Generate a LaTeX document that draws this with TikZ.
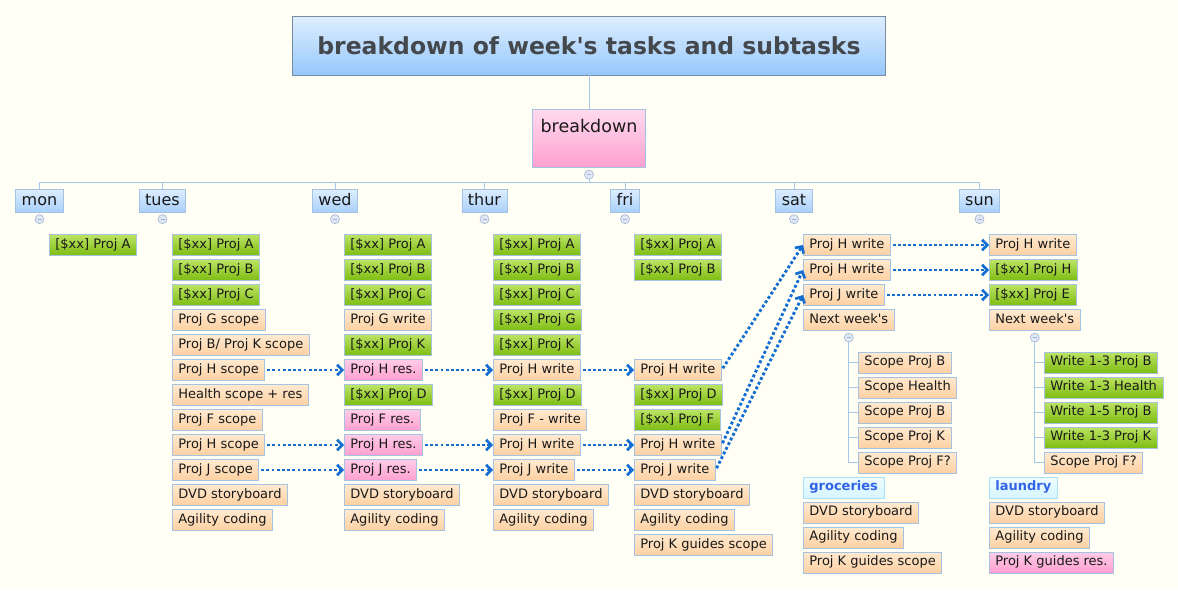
\documentclass[tikz,border=0pt]{standalone}
\usepackage{fontspec}
\setmainfont{DejaVu Sans}
\usetikzlibrary{arrows.meta,positioning}
\definecolor{bgcol}{RGB}{255,255,246}
\definecolor{txt}{RGB}{25,25,25}
\definecolor{boxline}{RGB}{165,195,225}
\definecolor{conncol}{RGB}{165,200,232}
\definecolor{flowcol}{RGB}{20,110,210}
\definecolor{grtop}{RGB}{188,228,100}
\definecolor{grbot}{RGB}{126,188,18}
\definecolor{ortop}{RGB}{255,234,208}
\definecolor{orbot}{RGB}{253,208,162}
\definecolor{pktop}{RGB}{255,204,232}
\definecolor{pkbot}{RGB}{255,160,208}
\definecolor{cytop}{RGB}{238,252,255}
\definecolor{cybot}{RGB}{214,245,255}
\definecolor{cyline}{RGB}{170,225,245}
\definecolor{cytext}{RGB}{50,100,230}
\definecolor{daytop}{RGB}{222,238,255}
\definecolor{daybot}{RGB}{168,208,250}
\definecolor{titbot}{RGB}{150,200,250}
\definecolor{titline}{RGB}{120,140,160}
\definecolor{tittext}{RGB}{68,72,76}
\definecolor{collfill}{RGB}{225,232,245}
\definecolor{collline}{RGB}{160,180,210}
\tikzset{
  box/.style={draw=boxline, line width=0.7pt, inner xsep=6pt, inner ysep=0pt,
    text height=9.5pt, text depth=3.5pt, minimum height=21pt,
    font=\fontsize{13}{15}\selectfont, text=txt},
  task/.style={box, anchor=west},
  taskgreen/.style={task, top color=grtop, bottom color=grbot},
  taskorange/.style={task, top color=ortop, bottom color=orbot},
  taskpink/.style={task, top color=pktop, bottom color=pkbot},
  taskcyan/.style={task, draw=cyline, top color=cytop, bottom color=cybot,
    text=cytext, font=\fontsize{13}{15}\selectfont\bfseries},
  daybox/.style={draw=boxline, line width=0.7pt, top color=daytop, bottom color=daybot,
    inner xsep=6pt, inner ysep=0pt, text height=12.5pt, text depth=3pt,
    minimum height=23pt, font=\fontsize{16}{19}\selectfont, text=txt},
  titlebox/.style={draw=titline, line width=0.8pt, top color=daytop, bottom color=titbot,
    minimum width=593pt, minimum height=59pt, text height=17pt, text depth=0pt,
    font=\fontsize{23.5}{28}\selectfont\bfseries, text=tittext},
  rootbox/.style={draw=boxline, line width=0.7pt, top color=pktop!70!white, bottom color=pkbot,
    minimum width=113pt, inner xsep=8pt, inner ysep=0pt, text height=23pt, text depth=35pt,
    font=\fontsize{17.5}{21}\selectfont, text=txt},
  collapse/.style={circle, draw=collline, fill=collfill, line width=0.6pt,
    minimum size=9pt, inner sep=0pt,
    path picture={\draw[collline, line width=0.8pt]
      ([xshift=-2pt]path picture bounding box.center) -- ([xshift=2pt]path picture bounding box.center);}},
  conn/.style={draw=conncol, line width=0.8pt},
  flow/.style={draw=flowcol, line width=2.9pt, dash pattern=on 2.9pt off 2.3pt, shorten <=2pt,
    -{Straight Barb[length=5pt,width=10.5pt,line width=2.7pt]}}
}
\begin{document}
\begin{tikzpicture}[x=1pt,y=-1pt]
\fill[bgcol] (0,0) rectangle (1178,590);
\node[titlebox] (title) at (589,45.5) {breakdown of week\textquotesingle s tasks and subtasks};
\node[rootbox] (bd) at (589,138) {breakdown};
\node[collapse, below=2.5pt of bd] (cbd) {};
\draw[conn] (title) -- (bd);
\draw[conn] (cbd.south) -- ++(0,2.5) coordinate (bus);

\node[daybox] (mon) at (39.5,200.5) {mon};
\node[daybox] (tue) at (162.5,200.5) {tues};
\node[daybox] (wed) at (335,200.5) {wed};
\node[daybox] (thu) at (484.5,200.5) {thur};
\node[daybox] (fri) at (625,200.5) {fri};
\node[daybox] (sat) at (794,200.5) {sat};
\node[daybox] (sun) at (979.5,200.5) {sun};
\foreach \d in {mon,tue,wed,thu,fri,sat,sun} {
  \draw[conn] (\d.north) |- (bus);
  \node[collapse, below=2pt of \d] (c\d) {};
}

\node[taskgreen] (mon1) at (49,245) {[\$xx] Proj A};

\foreach \row/\sty/\txt in {1/taskgreen/{[\$xx] Proj A}, 2/taskgreen/{[\$xx] Proj B},
    3/taskgreen/{[\$xx] Proj C}, 4/taskorange/{Proj G scope}, 5/taskorange/{Proj B/ Proj K scope},
    6/taskorange/{Proj H scope}, 7/taskorange/{Health scope + res}, 8/taskorange/{Proj F scope},
    9/taskorange/{Proj H scope}, 10/taskorange/{Proj J scope}, 11/taskorange/{DVD storyboard},
    12/taskorange/{Agility coding}}
  \node[\sty] (tue\row) at (172,220+25*\row) {\txt};

\foreach \row/\sty/\txt in {1/taskgreen/{[\$xx] Proj A}, 2/taskgreen/{[\$xx] Proj B},
    3/taskgreen/{[\$xx] Proj C}, 4/taskorange/{Proj G write}, 5/taskgreen/{[\$xx] Proj K},
    6/taskpink/{Proj H res.}, 7/taskgreen/{[\$xx] Proj D}, 8/taskpink/{Proj F res.},
    9/taskpink/{Proj H res.}, 10/taskpink/{Proj J res.}, 11/taskorange/{DVD storyboard},
    12/taskorange/{Agility coding}}
  \node[\sty] (wed\row) at (344,220+25*\row) {\txt};

\foreach \row/\sty/\txt in {1/taskgreen/{[\$xx] Proj A}, 2/taskgreen/{[\$xx] Proj B},
    3/taskgreen/{[\$xx] Proj C}, 4/taskgreen/{[\$xx] Proj G}, 5/taskgreen/{[\$xx] Proj K},
    6/taskorange/{Proj H write}, 7/taskgreen/{[\$xx] Proj D}, 8/taskorange/{Proj F - write},
    9/taskorange/{Proj H write}, 10/taskorange/{Proj J write}, 11/taskorange/{DVD storyboard},
    12/taskorange/{Agility coding}}
  \node[\sty] (thu\row) at (493,220+25*\row) {\txt};

\foreach \row/\sty/\txt in {1/taskgreen/{[\$xx] Proj A}, 2/taskgreen/{[\$xx] Proj B},
    6/taskorange/{Proj H write}, 7/taskgreen/{[\$xx] Proj D}, 8/taskgreen/{[\$xx] Proj F},
    9/taskorange/{Proj H write}, 10/taskorange/{Proj J write}, 11/taskorange/{DVD storyboard},
    12/taskorange/{Agility coding}, 13/taskorange/{Proj K guides scope}}
  \node[\sty] (fri\row) at (634,220+25*\row) {\txt};

\node[taskorange] (sat1) at (803,245) {Proj H write};
\node[taskorange] (sat2) at (803,270) {Proj H write};
\node[taskorange] (sat3) at (803,295) {Proj J write};
\node[taskorange] (sat4) at (803,320) {Next week\textquotesingle s};
\node[collapse, below=2pt of sat4] (csat4) {};
\foreach \k/\txt in {1/{Scope Proj B}, 2/{Scope Health}, 3/{Scope Proj B}, 4/{Scope Proj K}, 5/{Scope Proj F?}} {
  \node[taskorange] (satsub\k) at (858,337.5+25*\k) {\txt};
  \draw[conn] (csat4.south) |- (satsub\k.west);
}
\node[taskcyan] (groc) at (803,487.5) {groceries};
\node[taskorange] (sat5) at (803,512.5) {DVD storyboard};
\node[taskorange] (sat6) at (803,537.5) {Agility coding};
\node[taskorange] (sat7) at (803,562.5) {Proj K guides scope};

\node[taskorange] (sun1) at (989,245) {Proj H write};
\node[taskgreen] (sun2) at (989,270) {[\$xx] Proj H};
\node[taskgreen] (sun3) at (989,295) {[\$xx] Proj E};
\node[taskorange] (sun4) at (989,320) {Next week\textquotesingle s};
\node[collapse, below=2pt of sun4] (csun4) {};
\foreach \k/\sty/\txt in {1/taskgreen/{Write 1-3 Proj B}, 2/taskgreen/{Write 1-3 Health},
    3/taskgreen/{Write 1-5 Proj B}, 4/taskgreen/{Write 1-3 Proj K}, 5/taskorange/{Scope Proj F?}} {
  \node[\sty] (sunsub\k) at (1044,337.5+25*\k) {\txt};
  \draw[conn] (csun4.south) |- (sunsub\k.west);
}
\node[taskcyan] (laun) at (989,487.5) {laundry};
\node[taskorange] (sun5) at (989,512.5) {DVD storyboard};
\node[taskorange] (sun6) at (989,537.5) {Agility coding};
\node[taskpink] (sun7) at (989,562.5) {Proj K guides res.};

\foreach \r in {6,9,10} {
  \draw[flow] (tue\r) -- (wed\r);
  \draw[flow] (wed\r) -- (thu\r);
  \draw[flow] (thu\r) -- (fri\r);
}
\draw[flow] (fri6.east) -- (sat1.west);
\draw[flow] (fri9.east) -- (sat2.west);
\draw[flow] (fri10.east) -- (sat3.west);
\foreach \r in {1,2,3}
  \draw[flow] (sat\r) -- (sun\r);
\end{tikzpicture}
\end{document}
